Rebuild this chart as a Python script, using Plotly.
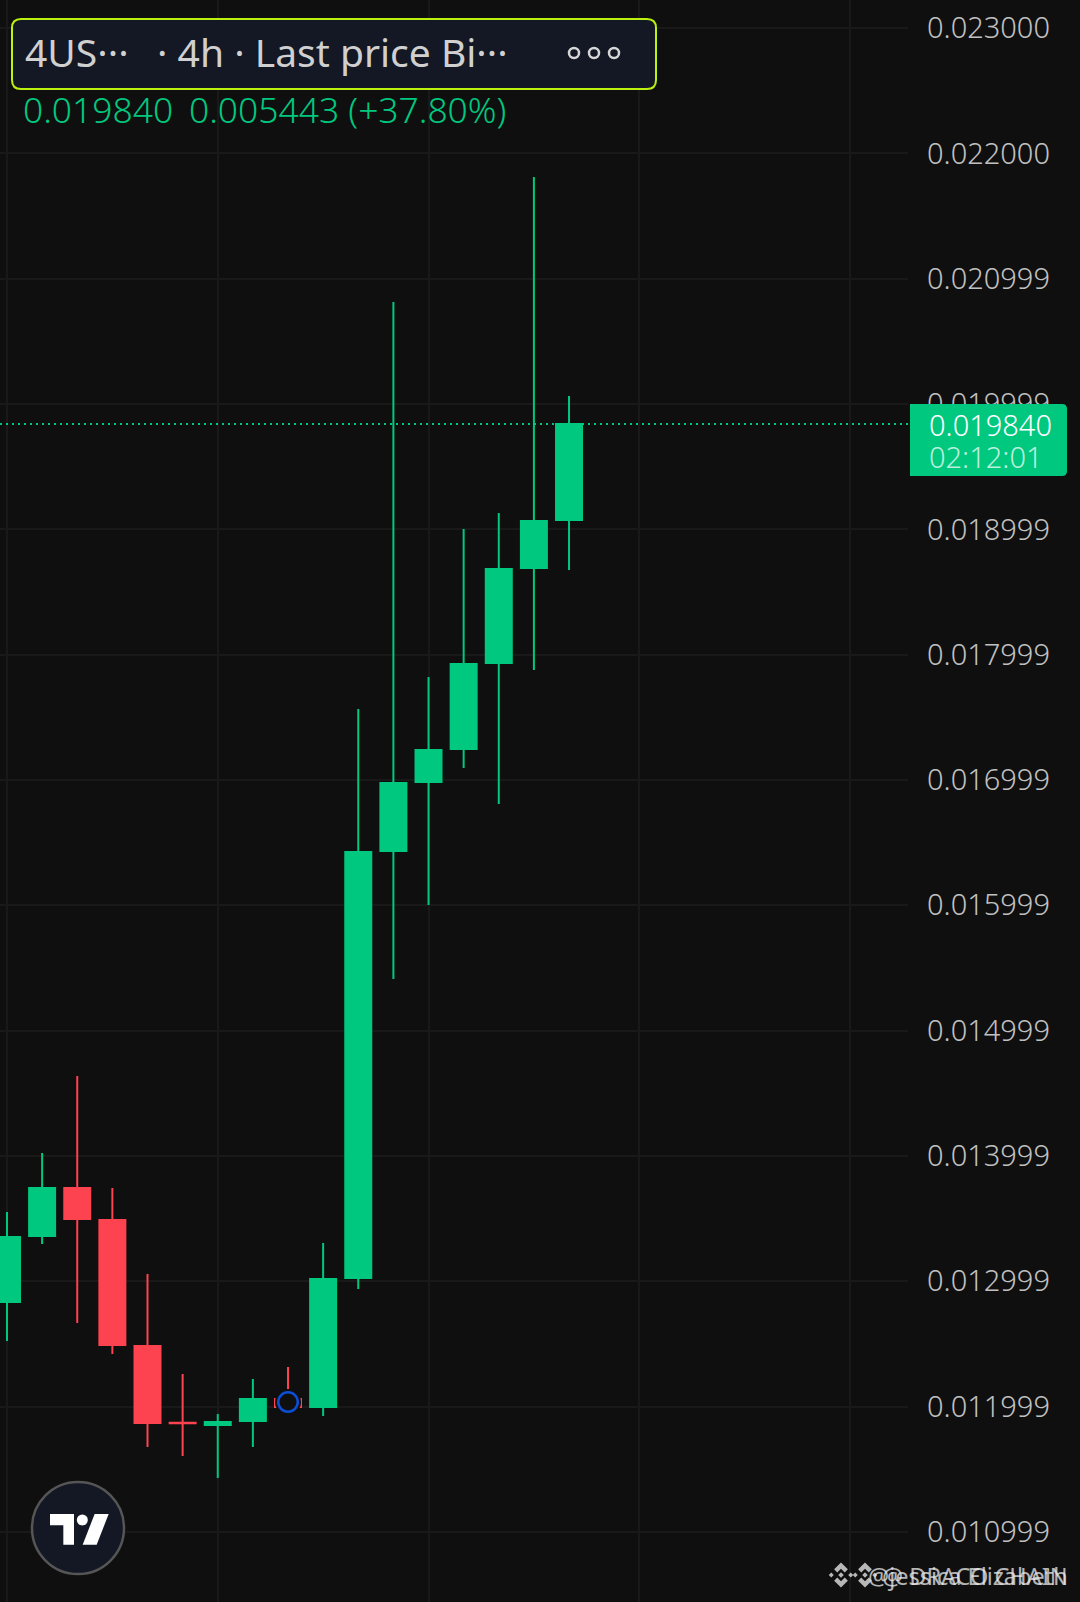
import plotly.graph_objects as go

W, H = 1080, 1602
BG = "#0f0f0f"
GRID = "#191919"
UP = "#00c87f"
DOWN = "#fd4250"

# ---- data -----------------------------------------------------------------
candle_index = list(range(17))
opens = [0.012835, 0.013362, 0.013745, 0.013489, 0.012484, 0.011872, 0.011854, 0.011886, 0.012061,
         0.011997, 0.013027, 0.016434, 0.016984, 0.017247, 0.017934, 0.018692, 0.019075]
highs = [0.013553, 0.014024, 0.014638, 0.013745, 0.013059, 0.012261, 0.011942, 0.012221, 0.012317,
         0.013306, 0.017567, 0.020814, 0.017822, 0.019003, 0.019131, 0.021812, 0.020064]
lows = [0.012524, 0.013298, 0.012668, 0.012420, 0.011678, 0.011606, 0.011431, 0.011678, 0.011990,
        0.011926, 0.012939, 0.015412, 0.016003, 0.017096, 0.016809, 0.017878, 0.018676]
closes = [0.013354, 0.013745, 0.013497, 0.012492, 0.011870, 0.011868, 0.011878, 0.012061, 0.011997,
          0.013019, 0.016426, 0.016976, 0.017240, 0.017926, 0.018684, 0.019067, 0.019840]

tick_values = [0.023, 0.022, 0.021, 0.020, 0.019, 0.018, 0.017, 0.016, 0.015, 0.014, 0.013, 0.012, 0.011]
tick_labels = ["0.023000", "0.022000", "0.020999", "0.019999", "0.018999", "0.017999", "0.016999",
               "0.015999", "0.014999", "0.013999", "0.012999", "0.011999", "0.010999"]

last_price = 0.019840
marker_x = [8]
marker_y = [0.012037]

NUM_FONT = "Noto Sans"
TXT_FONT = "Noto Sans"


def px(x):
    return x / W


def py(y):
    return 1 - y / H


def path(points, close=True):
    s = "M " + " L ".join(f"{px(x):.5f},{py(y):.5f}" for x, y in points)
    return s + (" Z" if close else "")


def rrect(x0, y0, x1, y1, r, rl=None):
    rl = r if rl is None else rl
    return (f"M {px(x0+rl):.5f},{py(y0):.5f} L {px(x1-r):.5f},{py(y0):.5f} "
            f"Q {px(x1):.5f},{py(y0):.5f} {px(x1):.5f},{py(y0+r):.5f} "
            f"L {px(x1):.5f},{py(y1-r):.5f} Q {px(x1):.5f},{py(y1):.5f} {px(x1-r):.5f},{py(y1):.5f} "
            f"L {px(x0+rl):.5f},{py(y1):.5f} Q {px(x0):.5f},{py(y1):.5f} {px(x0):.5f},{py(y1-rl):.5f} "
            f"L {px(x0):.5f},{py(y0+rl):.5f} Q {px(x0):.5f},{py(y0):.5f} {px(x0+rl):.5f},{py(y0):.5f} Z")


def circle(cx, cy, r, **kw):
    return dict(type="circle", xref="paper", yref="paper", x0=px(cx - r), x1=px(cx + r),
                y0=py(cy + r), y1=py(cy - r), **kw)


def poly(points, color):
    return dict(type="path", xref="paper", yref="paper", path=path(points),
                fillcolor=color, line=dict(width=0))


fig = go.Figure()
fig.add_trace(go.Candlestick(
    x=candle_index, open=opens, high=highs, low=lows, close=closes,
    increasing=dict(line=dict(color=UP, width=2), fillcolor=UP),
    decreasing=dict(line=dict(color=DOWN, width=2), fillcolor=DOWN),
    whiskerwidth=0, showlegend=False, hoverinfo="skip"))
fig.add_trace(go.Scatter(x=marker_x, y=marker_y, mode="markers", showlegend=False, hoverinfo="skip",
                         marker=dict(size=26, color=BG, line=dict(width=0))))
fig.add_trace(go.Scatter(x=marker_x, y=marker_y, mode="markers", showlegend=False, hoverinfo="skip",
                         marker=dict(size=19.5, color="rgba(0,0,0,0)", line=dict(width=2.5, color="#0b4fd8"))))

shapes = []
# last price dotted line
shapes.append(dict(type="line", xref="paper", yref="y", x0=0, x1=px(908), y0=last_price, y1=last_price,
                   line=dict(color=UP, width=2, dash="2px,4px")))
# price tag
shapes.append(dict(type="path", xref="paper", yref="paper", path=rrect(910, 404, 1067, 476, 5, 0.01),
                   fillcolor=UP, line=dict(width=0)))
# header box
shapes.append(dict(type="path", xref="paper", yref="paper", path=rrect(12, 19, 656, 89, 9),
                   fillcolor="#131824", line=dict(color="#bcf20e", width=2)))
for cx in (574, 594, 614):
    shapes.append(circle(cx, 53, 5, fillcolor="rgba(0,0,0,0)", line=dict(color="#d6d6d6", width=2.5)))
# TradingView badge
shapes.append(circle(78, 1528, 46, fillcolor="#131824", line=dict(color="#555555", width=2.5)))
ox, oy = 0, 1340
shapes.append(poly([(ox + x / 3, oy + y / 3) for x, y in
                    [(150, 522), (222, 522), (222, 614), (190, 614), (190, 556), (150, 556)]], "#ffffff"))
shapes.append(poly([(ox + x / 3, oy + y / 3) for x, y in
                    [(284, 522), (326, 522), (290, 614), (248, 614)]], "#ffffff"))
shapes.append(circle(247 / 3, 1340 + 540 / 3, 5.5, fillcolor="#ffffff", line=dict(width=0)))
# Binance watermark logos
for cx in (841, 865):
    cy, r = 1575, 12.5
    col = "rgba(225,225,225,0.8)"
    top = [(0, -1), (.55, -.45), (.3, -.2), (0, -.5), (-.3, -.2), (-.55, -.45)]
    for sgn in (1, -1):
        shapes.append(poly([(cx + a * r, cy + sgn * b * r) for a, b in top], col))
    for dx in (-.78, 0, .78):
        hd = .2 if dx else .22
        shapes.append(poly([(cx + (dx + a) * r, cy + b * r) for a, b in
                            [(0, -hd), (hd, 0), (0, hd), (-hd, 0)]], col))


def note(x, y, text, size, color, font=NUM_FONT, anchor="left", weight=300):
    return dict(xref="paper", yref="paper", x=px(x), y=py(y), text=text, showarrow=False,
                xanchor=anchor, yanchor="middle", xshift=0,
                font=dict(family=font, size=size, color=color, weight=weight))


annotations = [
    note(23, 52, "4US···", 39, "#d0d0d0", TXT_FONT, weight=400),
    note(155, 52, "· 4h · Last price Bi···", 39, "#d0d0d0", TXT_FONT, weight=400),
    note(21, 109, "0.019840", 35.4, UP),
    note(186.5, 109, "0.005443 (+37.80%)", 35.4, UP),
    note(927, 425, "0.019840", 29, "#ffffff"),
    note(927, 457, "02:12:01", 29, "#b8f0dc"),
    note(1070, 1576, "@ DRACO CHAIN", 23.5, "rgba(235,235,235,0.75)", TXT_FONT, "right", 400),
    note(1070, 1576, "@jessica Elizabeth", 23.5, "rgba(235,235,235,0.75)", TXT_FONT, "right", 400),
]

fig.update_layout(
    width=W, height=H, margin=dict(l=0, r=0, t=0, b=0, pad=0),
    paper_bgcolor=BG, plot_bgcolor=BG, showlegend=False, boxmode="group", boxgap=0.26, boxgroupgap=0,
    shapes=shapes, annotations=annotations,
    xaxis=dict(domain=[0, 908 / W], range=[-0.199, 25.65], tick0=0, dtick=6, showgrid=True,
               gridcolor=GRID, gridwidth=2, zeroline=False, showticklabels=False, ticks="",
               showline=False, rangeslider=dict(visible=False)),
    yaxis=dict(side="right", range=[0.010441, 0.023224], tickmode="array", tickvals=tick_values,
               ticktext=tick_labels, showgrid=True, gridcolor=GRID, gridwidth=2, zeroline=False,
               showline=False, ticks="", ticklabelstandoff=18,
               tickfont=dict(family=NUM_FONT, size=29, color="#c0c0c0", weight=300)),
)

fig.write_html("out.html", post_script="document.body.style.margin='0';",
               config=dict(displayModeBar=False))
